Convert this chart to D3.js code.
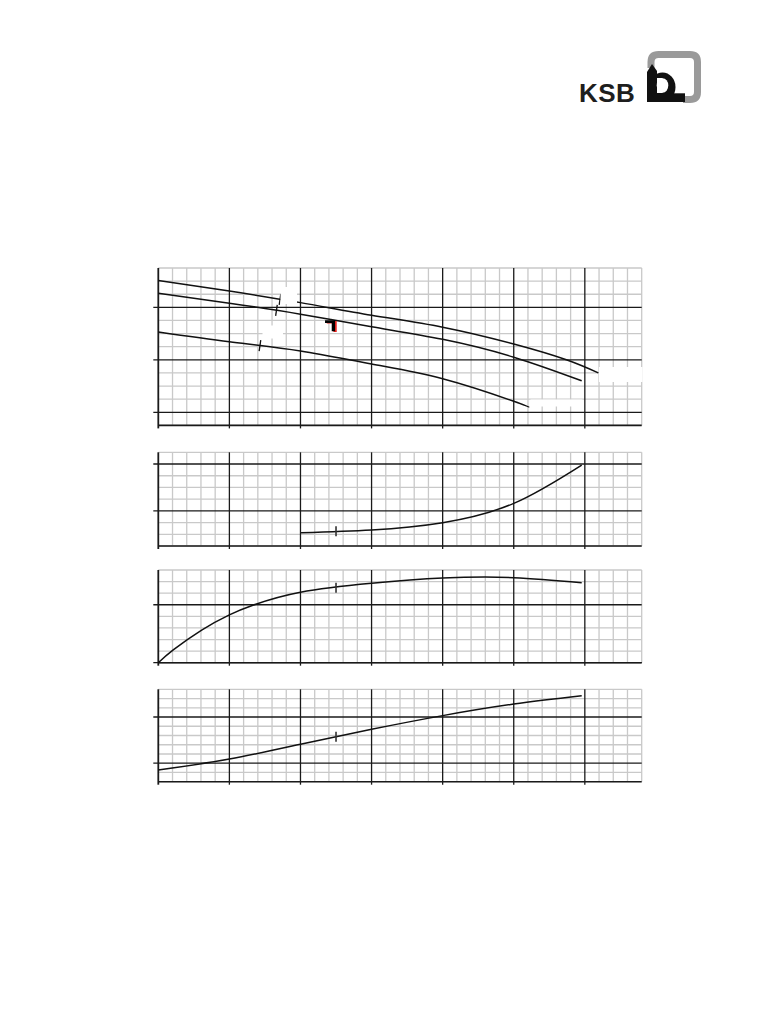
<!DOCTYPE html>
<html>
<head>
<meta charset="utf-8">
<script src="https://cdn.jsdelivr.net/npm/d3@7"></script>
<style>
  html, body { margin: 0; padding: 0; background: #fff; }
  svg { display: block; }
</style>
</head>
<body>
<svg id="chart" width="768" height="1024"></svg>
<script>
// ---------------- DATA ----------------
const flowDomain = [0, 340];
const flowMajorTicks = [0, 50, 100, 150, 200, 250, 300];
const flowMinorStep = 10;

// Head curves (three impeller diameters): [Q, H]
const headMax = [[0,45.1],[50,43.1],[100,40.9],[150,38.5],[200,36.2],[250,33.0],[287,30.0],[309.5,27.5]];
const headRated = [[0,42.7],[50,40.8],[100,38.7],[150,36.3],[200,33.9],[250,30.5],[297.8,26.0]];
const headMin = [[0,35.3],[50,33.45],[100,31.7],[150,29.2],[200,26.4],[250,22.1],[260.7,20.95]];
const headDomain = [17.5, 47.5];
const headMajorTicks = [20, 30, 40];
const headMinorStep = 2.5;

// NPSH required
const npsh = [[100.4,2.67],[150,2.96],[200,3.74],[250,5.8],[297.8,9.89]];
const npshDomain = [1.25, 11.25];
const npshMajorTicks = [5, 10];
const npshMinorStep = 1.25;

// Efficiency
const efficiency = [[0,0],[10.5,11.0],[30.5,28.2],[50,41.3],[67,49.8],[100,60.8],[150,68.5],[200,73.0],[250,73.4],[297.8,69.0]];
const effDomain = [0, 80];
const effMajorTicks = [0, 50];
const effMinorStep = 10;

// Power
const power = [[0,8.53],[50,10.9],[100,14.1],[150,17.34],[200,20.3],[250,22.8],[297.8,24.6]];
const powerDomain = [6, 26];
const powerMajorTicks = [10, 20];
const powerMinorStep = 2;

// Curve tick marks (Q positions)
const headTickQ = [85.6, 83.1, 71.5];   // on headMax, headRated, headMin
const lowerTickQ = 125;                 // on NPSH / efficiency / power
const dutyQ = 124.3;                    // operating point on rated curve

// ---------------- LAYOUT ----------------
const svg = d3.select("#chart");
svg.append("rect").attr("width", 768).attr("height", 1024).attr("fill", "#fff");

const x = d3.scaleLinear().domain(flowDomain).range([158.3, 641.7]);

const panels = [
  { key: "head", domain: headDomain, majors: headMajorTicks, step: headMinorStep, top: 268, bottom: 425.4 },
  { key: "npsh", domain: npshDomain, majors: npshMajorTicks, step: npshMinorStep, top: 452.3, bottom: 546 },
  { key: "eff", domain: effDomain, majors: effMajorTicks, step: effMinorStep, top: 570, bottom: 662.7 },
  { key: "power", domain: powerDomain, majors: powerMajorTicks, step: powerMinorStep, top: 689.3, bottom: 781.7 }
];

const minorColor = "#c9c9c9";
const majorColor = "#1a1a1a";

const line = (y) => d3.line().x(d => x(d[0])).y(d => y(d[1])).curve(d3.curveNatural);

function interp(data, q) {
  const s = d3.scaleLinear().domain(data.map(d => d[0])).range(data.map(d => d[1]));
  return s(q);
}

panels.forEach(p => {
  const y = d3.scaleLinear().domain(p.domain).range([p.bottom, p.top]);
  p.y = y;
  const g = svg.append("g");
  const xMin = x(flowDomain[0]), xMax = x(flowDomain[1]);
  const eps = 1e-6;

  // minor grid
  const qMinor = d3.range(flowDomain[0], flowDomain[1] + eps, flowMinorStep).filter(q => !flowMajorTicks.includes(q));
  g.selectAll(".vmin").data(qMinor).join("line")
    .attr("x1", d => x(d)).attr("x2", d => x(d)).attr("y1", p.top).attr("y2", p.bottom)
    .attr("stroke", minorColor).attr("stroke-width", 1.3);
  const vMinor = d3.range(p.domain[0], p.domain[1] + eps, p.step).filter(v => !p.majors.some(m => Math.abs(m - v) < eps));
  g.selectAll(".hmin").data(vMinor).join("line")
    .attr("x1", xMin).attr("x2", xMax).attr("y1", d => y(d)).attr("y2", d => y(d))
    .attr("stroke", minorColor).attr("stroke-width", 1.3);

  // major grid
  g.selectAll(".vmaj").data(flowMajorTicks).join("line")
    .attr("x1", d => x(d)).attr("x2", d => x(d)).attr("y1", p.top).attr("y2", p.bottom + 3)
    .attr("stroke", majorColor).attr("stroke-width", d => d === 0 ? 1.8 : 1.3);
  g.selectAll(".hmaj").data(p.majors).join("line")
    .attr("x1", xMin - 5).attr("x2", xMax).attr("y1", d => y(d)).attr("y2", d => y(d))
    .attr("stroke", majorColor).attr("stroke-width", 1.3);

  // bottom axis line
  g.append("line").attr("x1", xMin).attr("x2", xMax).attr("y1", p.bottom).attr("y2", p.bottom)
    .attr("stroke", majorColor).attr("stroke-width", 1.6);
});

const [pH, pN, pE, pP] = panels;
const curveStyle = sel => sel.attr("fill", "none").attr("stroke", "#111").attr("stroke-width", 1.5);

// Head curves
[headMax, headRated, headMin].forEach(c => {
  svg.append("path").datum(c).attr("d", line(pH.y)).call(curveStyle);
});
// head ticks (slightly slanted)
[[headMax, headTickQ[0]], [headRated, headTickQ[1]], [headMin, headTickQ[2]]].forEach(([c, q]) => {
  const cx = x(q), cy = pH.y(interp(c, q));
  svg.append("line").attr("x1", cx + 0.8).attr("y1", cy - 5.5).attr("x2", cx - 0.8).attr("y2", cy + 5.5)
    .attr("stroke", "#111").attr("stroke-width", 1.3);
});

// Lower panels
[[pN, npsh], [pE, efficiency], [pP, power]].forEach(([p, c]) => {
  svg.append("path").datum(c).attr("d", line(p.y)).call(curveStyle);
  const cx = x(lowerTickQ), cy = p.y(interp(c, lowerTickQ));
  svg.append("line").attr("x1", cx).attr("x2", cx).attr("y1", cy - 5).attr("y2", cy + 5)
    .attr("stroke", "#333").attr("stroke-width", 1.6);
});

// white label backgrounds (labels blanked in original)
const blank = (x0, y0, w, h) => svg.append("rect").attr("x", x0).attr("y", y0).attr("width", w).attr("height", h).attr("fill", "#fff");
blank(280.5, 287, 16.5, 17);
blank(262.5, 325.5, 20.5, 13);
blank(599, 367, 43.5, 15);
blank(530.5, 399.5, 52, 7);

// Duty point marker
{
  const cx = x(dutyQ), cy = pH.y(interp(headRated, dutyQ));
  const shape = `M${cx - 10},${cy} L${cx},${cy} L${cx},${cy + 11} L${cx - 3.3},${cy + 11} L${cx - 3.3},${cy + 2.7} L${cx - 10},${cy + 2.7} Z`;
  svg.append("path").attr("d", shape).attr("fill", "#e8231f").attr("transform", "translate(1.7,0.6)");
  svg.append("path").attr("d", shape).attr("fill", "#000");
}

// ---------------- LOGO ----------------
const logo = svg.append("g");
logo.append("text").attr("x", 579).attr("y", 101.5).text("KSB")
  .attr("font-family", "Liberation Sans, Arial, sans-serif").attr("font-weight", "bold")
  .attr("font-size", 26).attr("fill", "#1e1e1e").attr("letter-spacing", 0.5);
// gray frame
logo.append("path")
  .attr("d", "M651,68 L651,62 Q651,54.5 658.5,54.5 L690,54.5 Q697.5,54.5 697.5,62 L697.5,92 Q697.5,99.5 690,99.5 L683,99.5")
  .attr("fill", "none").attr("stroke", "#9a9a9a").attr("stroke-width", 7);
// black "b"
logo.append("path")
  .attr("d", "M647,72 L652,64 L657,71 L657,102 L647,102 Z").attr("fill", "#111");
logo.append("ellipse").attr("cx", 662.5).attr("cy", 87).attr("rx", 13).attr("ry", 14.5).attr("fill", "#111");
logo.append("rect").attr("x", 655).attr("y", 93.3).attr("width", 30).attr("height", 8.7).attr("fill", "#111");
logo.append("ellipse").attr("cx", 662.5).attr("cy", 85.5).attr("rx", 5.8).attr("ry", 7.3).attr("fill", "#fff");
logo.append("rect").attr("x", 657).attr("y", 78).attr("width", 5.5).attr("height", 15).attr("fill", "#fff");
</script>
</body>
</html>
